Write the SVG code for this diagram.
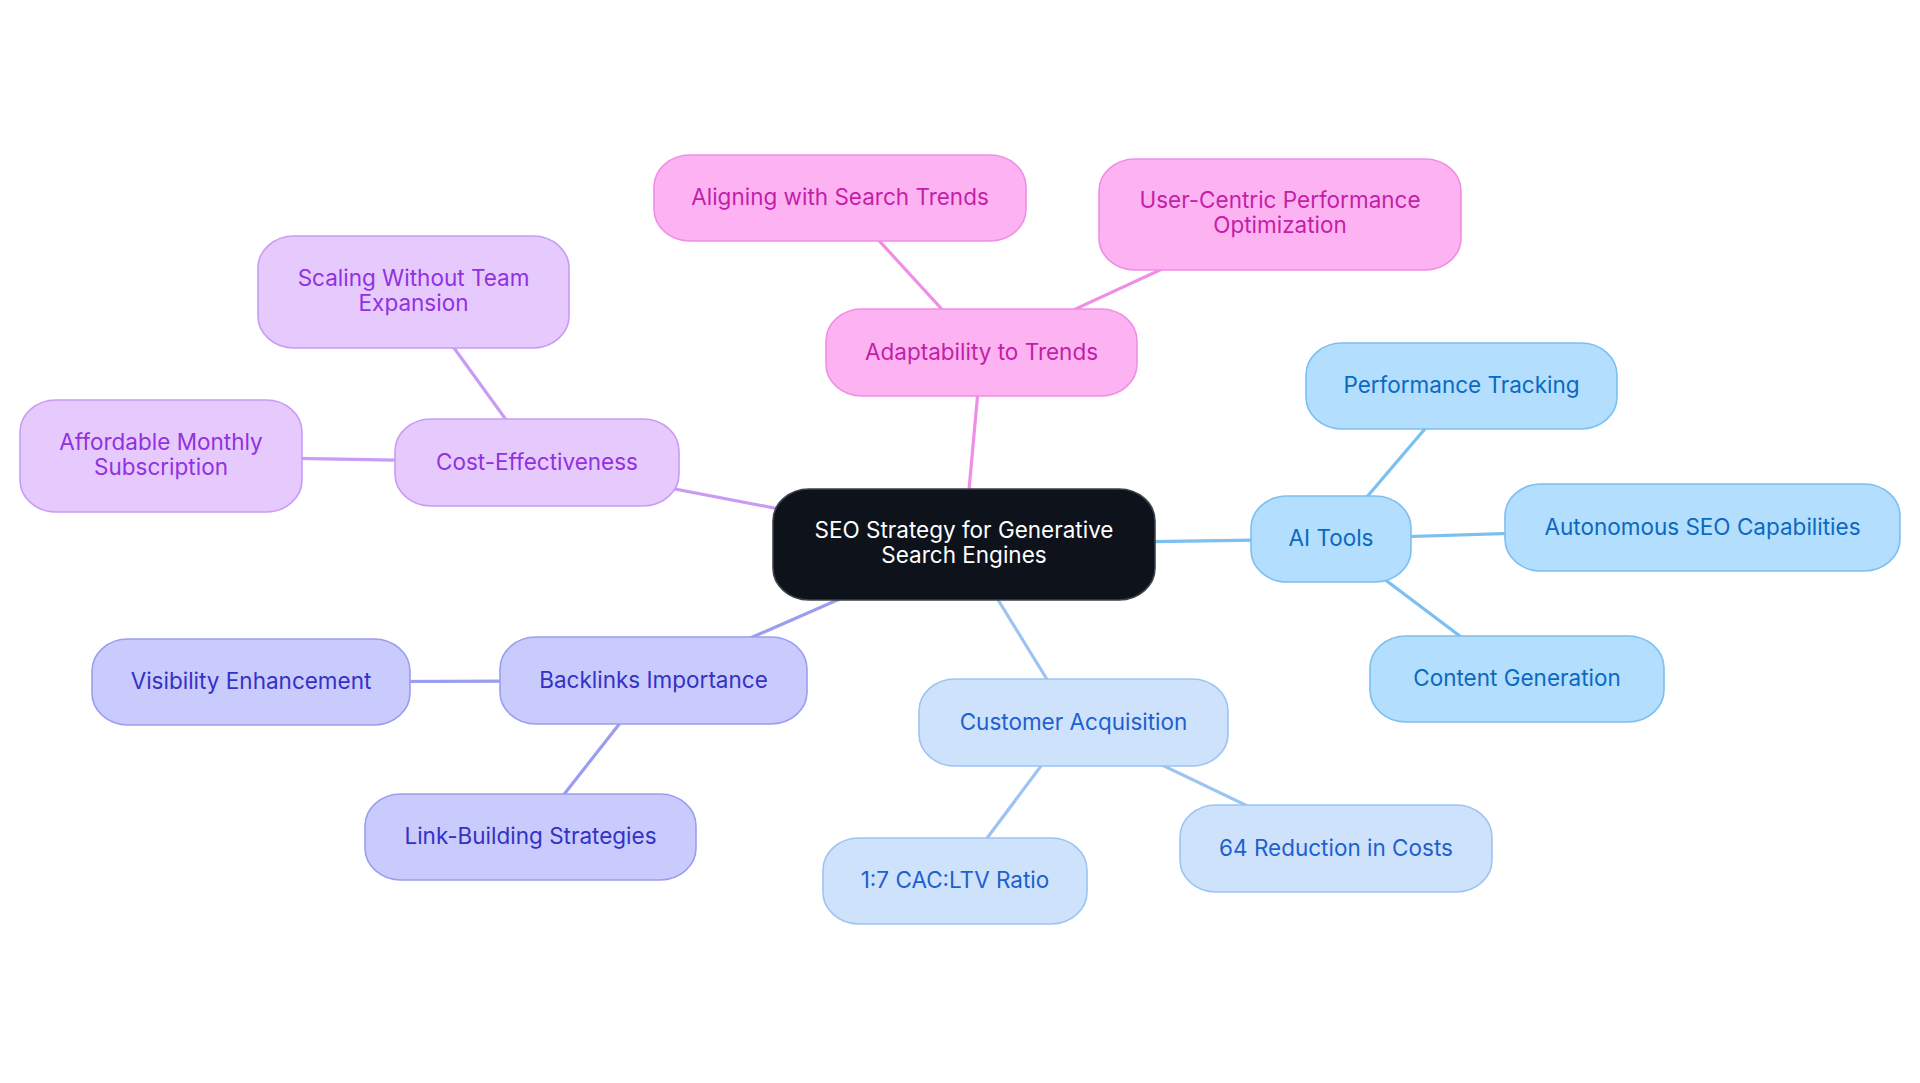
<svg xmlns="http://www.w3.org/2000/svg" width="1920" height="1083" viewBox="0 0 1920 1083">
<style>
text{font-family:Inter,"Noto Sans","Liberation Sans",sans-serif;font-size:22.5px;text-anchor:middle}
.n rect{stroke-width:1.6}
.purple rect{fill:#E6CAFD;stroke:#C99BF4}.purple text{fill:#9131E0}
.pink rect{fill:#FDB3F2;stroke:#F08DE5}.pink text{fill:#C41EA8}
.sky rect{fill:#B3DEFD;stroke:#7CBFF1}.sky text{fill:#0B69C0}
.blue rect{fill:#CEE3FB;stroke:#9CC4F2}.blue text{fill:#1D60CF}
.indigo rect{fill:#C9CBFD;stroke:#9A9DF0}.indigo text{fill:#3431C4}
.root rect{fill:#0D121B;stroke:#3D424B}.root text{fill:#FFFFFF}
#connectors line{stroke-width:3.2;stroke-linecap:round}
.lp{stroke:#C99BF4}.lk{stroke:#F08DE5}.ls{stroke:#7CBFF1}.lb{stroke:#9CC4F2}.li{stroke:#9A9DF0}
</style>
<rect width="1920" height="1083" fill="#FFFFFF"/>
<g id="connectors">
<line class="lp" x1="964" y1="544.5" x2="537" y2="462.5"/>
<line class="lp" x1="537" y1="462.5" x2="161" y2="456"/>
<line class="lp" x1="537" y1="462.5" x2="413.5" y2="292"/>
<line class="lk" x1="964" y1="544.5" x2="981.5" y2="352.5"/>
<line class="lk" x1="981.5" y1="352.5" x2="840" y2="198"/>
<line class="lk" x1="981.5" y1="352.5" x2="1280" y2="214.5"/>
<line class="ls" x1="964" y1="544.5" x2="1331" y2="539"/>
<line class="ls" x1="1331" y1="539" x2="1461.5" y2="386"/>
<line class="ls" x1="1331" y1="539" x2="1702.5" y2="527.5"/>
<line class="ls" x1="1331" y1="539" x2="1517" y2="679"/>
<line class="lb" x1="964" y1="544.5" x2="1073.5" y2="722.5"/>
<line class="lb" x1="1073.5" y1="722.5" x2="955" y2="881"/>
<line class="lb" x1="1073.5" y1="722.5" x2="1336" y2="848.5"/>
<line class="li" x1="964" y1="544.5" x2="653.5" y2="680.5"/>
<line class="li" x1="653.5" y1="680.5" x2="251" y2="682"/>
<line class="li" x1="653.5" y1="680.5" x2="530.5" y2="837"/>
</g>
<g id="root" class="n root"><rect x="773" y="489" width="382" height="111" rx="36" ry="32"/><text x="964" y="538">SEO Strategy for Generative</text><text x="964" y="563">Search Engines</text></g>
<g id="cost" class="n purple"><rect x="395" y="419" width="284" height="87" rx="36" ry="32"/><text x="537" y="469.5">Cost-Effectiveness</text></g>
<g id="afford" class="n purple"><rect x="20" y="400" width="282" height="112" rx="36" ry="32"/><text x="161" y="450">Affordable Monthly</text><text x="161" y="475">Subscription</text></g>
<g id="scaling" class="n purple"><rect x="258" y="236" width="311" height="112" rx="36" ry="32"/><text x="413.5" y="285.5">Scaling Without Team</text><text x="413.5" y="310.5">Expansion</text></g>
<g id="adapt" class="n pink"><rect x="826" y="309" width="311" height="87" rx="36" ry="32"/><text x="981.5" y="359.5">Adaptability to Trends</text></g>
<g id="align" class="n pink"><rect x="654" y="155" width="372" height="86" rx="36" ry="32"/><text x="840" y="205">Aligning with Search Trends</text></g>
<g id="user" class="n pink"><rect x="1099" y="159" width="362" height="111" rx="36" ry="32"/><text x="1280" y="208">User-Centric Performance</text><text x="1280" y="233">Optimization</text></g>
<g id="ai" class="n sky"><rect x="1251" y="496" width="160" height="86" rx="36" ry="32"/><text x="1331" y="546">AI Tools</text></g>
<g id="perf" class="n sky"><rect x="1306" y="343" width="311" height="86" rx="36" ry="32"/><text x="1461.5" y="393">Performance Tracking</text></g>
<g id="auto" class="n sky"><rect x="1505" y="484" width="395" height="87" rx="36" ry="32"/><text x="1702.5" y="534.5">Autonomous SEO Capabilities</text></g>
<g id="content" class="n sky"><rect x="1370" y="636" width="294" height="86" rx="36" ry="32"/><text x="1517" y="686">Content Generation</text></g>
<g id="cust" class="n blue"><rect x="919" y="679" width="309" height="87" rx="36" ry="32"/><text x="1073.5" y="729.5">Customer Acquisition</text></g>
<g id="cac" class="n blue"><rect x="823" y="838" width="264" height="86" rx="36" ry="32"/><text x="955" y="888">1:7 CAC:LTV Ratio</text></g>
<g id="reduction" class="n blue"><rect x="1180" y="805" width="312" height="87" rx="36" ry="32"/><text x="1336" y="855.5">64 Reduction in Costs</text></g>
<g id="backlinks" class="n indigo"><rect x="500" y="637" width="307" height="87" rx="36" ry="32"/><text x="653.5" y="687.5">Backlinks Importance</text></g>
<g id="visibility" class="n indigo"><rect x="92" y="639" width="318" height="86" rx="36" ry="32"/><text x="251" y="689">Visibility Enhancement</text></g>
<g id="linkbuilding" class="n indigo"><rect x="365" y="794" width="331" height="86" rx="36" ry="32"/><text x="530.5" y="844">Link-Building Strategies</text></g>
</svg>
